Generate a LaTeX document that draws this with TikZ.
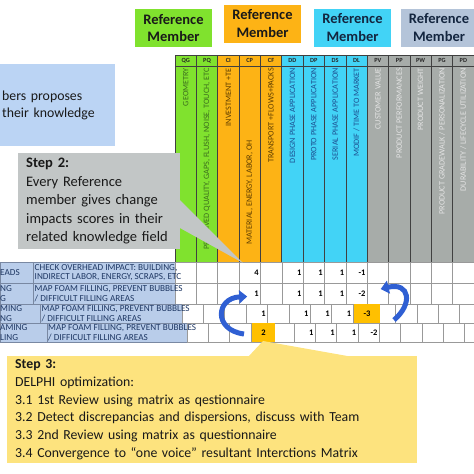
\documentclass[tikz,border=0pt]{standalone}
\usepackage{fontspec}
\setmainfont{Carlito}
\usetikzlibrary{arrows.meta}
\definecolor{memgreen}{HTML}{80E22E}
\definecolor{memorange}{HTML}{FDB315}
\definecolor{memcyan}{HTML}{42D3F6}
\definecolor{memgray}{HTML}{B4C4D9}
\definecolor{colgray}{HTML}{A7ACA9}
\definecolor{greentext}{HTML}{3C6E1E}
\definecolor{orangetext}{HTML}{5E3D00}
\definecolor{cyantext}{HTML}{1D4F91}
\definecolor{graytext}{HTML}{E4E4E4}
\definecolor{navytext}{HTML}{13253F}
\definecolor{rowblue}{HTML}{B9CDEA}
\definecolor{rowtext}{HTML}{1F3864}
\definecolor{stepblue}{HTML}{BBD4F4}
\definecolor{stepgray}{HTML}{C2C6C6}
\definecolor{stepyellow}{HTML}{FDE37E}
\definecolor{cellorange}{HTML}{FFC000}
\definecolor{arrowblue}{HTML}{2F5FD3}
\tikzstyle{member}=[minimum width=77pt, minimum height=38pt, inner sep=0pt, align=center, text=black!90, font=\fontsize{14.5}{17.5}\selectfont\bfseries]
\tikzstyle{codetext}=[inner sep=0pt, text=black!85, font=\fontsize{6.3}{7}\selectfont\bfseries]
\tikzstyle{collabel}=[rotate=90, anchor=east, inner sep=0pt, font=\fontsize{8.2}{9}\selectfont]
\tikzstyle{colline}=[draw=black!75, line width=0.6pt]
\tikzstyle{gridline}=[draw=black!40, line width=0.5pt]
\tikzstyle{rowline}=[draw=rowtext!60, line width=0.5pt]
\tikzstyle{rowlabel}=[anchor=west, align=left, inner sep=0pt, text=rowtext, font=\fontsize{9.2}{9.8}\selectfont]
\tikzstyle{score}=[anchor=east, inner sep=0pt, text=black, font=\fontsize{8.5}{9}\selectfont\bfseries]
\tikzstyle{hlcell}=[fill=cellorange, minimum height=19pt, inner sep=0pt, font=\fontsize{8.5}{9}\selectfont\bfseries]
\tikzstyle{stepbox}=[anchor=north west, align=left, inner ysep=0pt, text=black!90]
\tikzstyle{bluearrow}=[draw=arrowblue, line width=5pt, -{Triangle[length=8pt, width=13pt]}]
\def\cw{21.357}

\begin{document}
\begin{tikzpicture}[x=1pt, y=-1pt]
	\useasboundingbox (0,0) rectangle (474,474);
	% reference members
	\node [style=member, fill=memgreen] (mem_green) at (173.5,28) {Reference\\Member};
	\node [style=member, fill=memorange] (mem_orange) at (262.5,23.5) {Reference\\Member};
	\node [style=member, fill=memcyan, text=navytext] (mem_cyan) at (352.5,27.5) {Reference\\Member};
	\node [style=member, fill=memgray, text=navytext] (mem_gray) at (439,27.5) {Reference\\Member};

	% columns
	\foreach \i/\code/\txt/\bg/\fg/\ytop in {
		0/QG/GEOMETRY/memgreen/greentext/68,
		{1/PQ/PERCEIVED QUALITY, GAPS, FLUSH, NOISE, TOUCH, ETC/memgreen/greentext/68},
		2/CI/INVESTMENT +TE/memorange/orangetext/68,
		{3/CP/MATERIAL, ENERGY, LABOR, OH/memorange/orangetext/140},
		4/CF/TRANSPORT +FLOWS+PACKS/memorange/orangetext/68,
		5/DD/DESIGN PHASE APPLICATION/memcyan/cyantext/68,
		6/DP/PROTO PHASE APPLICATION/memcyan/cyantext/68,
		7/DS/SERIAL PHASE APPLICATION/memcyan/cyantext/68,
		8/DL/{MODIF / TIME TO MARKET}/memcyan/cyantext/68,
		9/PV/CUSTOMER VALUE/colgray/graytext/68,
		10/PP/PRODUCT PERFORMANCES/colgray/graytext/68,
		11/PW/PRODUCT WEIGHT/colgray/graytext/68,
		12/PG/{PRODUCT GRADEWALK / PERSONALIZATION}/colgray/graytext/68,
		13/PD/{DURABILITY / LIFECYCLE UTILIZATION}/colgray/graytext/68} {
		\fill [\bg] ({175+\i*\cw},55) rectangle ({175+(\i+1)*\cw},262);
		\node [style=codetext] (code_\code) at ({175+(\i+0.5)*\cw},60.5) {\code};
		\node [style=collabel, text=\fg] (lab_\code) at ({175+(\i+0.5)*\cw},\ytop) {\txt};
	}
	\foreach \i in {0,...,14}
		\draw [style=colline] ({175+\i*\cw},55) -- ({175+\i*\cw},262);
	\draw [style=colline] (175,55) -- (474,55);
	\draw [style=colline] (175,66) -- (474,66);

	% rows
	\foreach \top/\bot/\off/\split in {262/283/0/33, 283/304/0/33, 304/323/7/40, 323/342/12/47} {
		\fill [rowblue] (0,\top) rectangle ({175+\off},\bot);
		\draw [style=rowline] (0,\top) rectangle ({175+\off},\bot);
		\draw [style=rowline] (\split,\top) -- (\split,\bot);
		\draw [style=gridline] ({175+\off},\top) -- (474,\top);
		\draw [style=gridline] ({175+\off},\bot) -- (474,\bot);
		\foreach \k in {0,...,14}
			\draw [style=gridline] ({175+\off+\k*\cw},\top) -- ({175+\off+\k*\cw},\bot);
	}
	\node [style=rowlabel] (row1_head) at (0,272.5) {EADS};
	\node [style=rowlabel] (row1_text) at (34.5,272.5) {CHECK OVERHEAD IMPACT: BUILDING,\\INDIRECT LABOR, ENERGY, SCRAPS, ETC};
	\node [style=rowlabel] (row2_head) at (0,293.5) {NG\\G};
	\node [style=rowlabel] (row2_text) at (34.5,293.5) {MAP FOAM FILLING, PREVENT BUBBLES\\/ DIFFICULT FILLING AREAS};
	\node [style=rowlabel] (row3_head) at (0,313.5) {MING\\NG};
	\node [style=rowlabel] (row3_text) at (41.5,313.5) {MAP FOAM FILLING, PREVENT BUBBLES\\/ DIFFICULT FILLING AREAS};
	\node [style=rowlabel] (row4_head) at (0,332.5) {AMING\\LING};
	\node [style=rowlabel] (row4_text) at (48,332.5) {MAP FOAM FILLING, PREVENT BUBBLES\\/ DIFFICULT FILLING AREAS};

	% scores
	\node [style=score] (s1cp) at (258.9,272.5) {4};
	\node [style=score] (s1dd) at (301.7,272.5) {1};
	\node [style=score] (s1dp) at (323.0,272.5) {1};
	\node [style=score] (s1ds) at (344.4,272.5) {1};
	\node [style=score] (s1dl) at (365.7,272.5) {-1};
	\node [style=score] (s2cp) at (258.9,293.5) {1};
	\node [style=score] (s2dd) at (301.7,293.5) {1};
	\node [style=score] (s2dp) at (323.0,293.5) {1};
	\node [style=score] (s2ds) at (344.4,293.5) {1};
	\node [style=score] (s2dl) at (365.7,293.5) {-2};
	\node [style=score] (s3cp) at (265.9,313.5) {1};
	\node [style=score] (s3dd) at (308.7,313.5) {1};
	\node [style=score] (s3dp) at (330.0,313.5) {1};
	\node [style=score] (s3ds) at (351.4,313.5) {1};
	\node [style=hlcell, minimum width=26pt] (s3dl) at (367,313.5) {-3};
	\node [style=hlcell, minimum width=23pt] (s4cp) at (263.5,332.5) {2};
	\node [style=score] (s4dd) at (313.7,332.5) {1};
	\node [style=score] (s4dp) at (335.0,332.5) {1};
	\node [style=score] (s4ds) at (356.4,332.5) {1};
	\node [style=score] (s4dl) at (377.7,332.5) {-2};

	% review arrows
	\coordinate (left_start) at (244,334);
	\coordinate (right_start) at (394,320);
	\draw [style=bluearrow] (left_start) .. controls (213,330) and (216,298) .. ([xshift=-7pt, yshift=-3pt]s2cp.west);
	\draw [style=bluearrow] (right_start) .. controls (413,304) and (410,282) .. ([xshift=15pt, yshift=4.5pt]s2dl.east);

	% steps
	\node [style=stepbox, fill=stepblue, minimum width=115pt, minimum height=82pt, text width=111pt, inner xsep=2pt, font=\fontsize{13.8}{17}\selectfont] (step1) at (0,64) {bers proposes\\their knowledge};
	\fill [stepgray] (180,200) -- (243,263) -- (180,228) -- cycle;
	\node [style=stepbox, fill=stepgray, minimum width=162pt, minimum height=96pt, text width=146pt, inner xsep=8pt, font=\fontsize{14.5}{18.5}\selectfont] (step2) at (18,153) {\textbf{Step 2:}\\Every Reference\\member gives change\\impacts scores in their\\related knowledge field};
	\fill [stepyellow] (248,357) -- (263,341) -- (353,357) -- cycle;
	\node [style=stepbox, fill=stepyellow, minimum width=410pt, minimum height=107pt, text width=394pt, inner xsep=8pt, font=\fontsize{13.8}{17.8}\selectfont] (step3) at (7,356) {\textbf{Step 3:}\\DELPHI optimization:\\3.1 1st Review using matrix as qestionnaire\\3.2 Detect discrepancias and dispersions, discuss with Team\\3.3 2nd Review using matrix as questionnaire\\3.4 Convergence to “one voice” resultant Interctions Matrix};
\end{tikzpicture}
\end{document}
